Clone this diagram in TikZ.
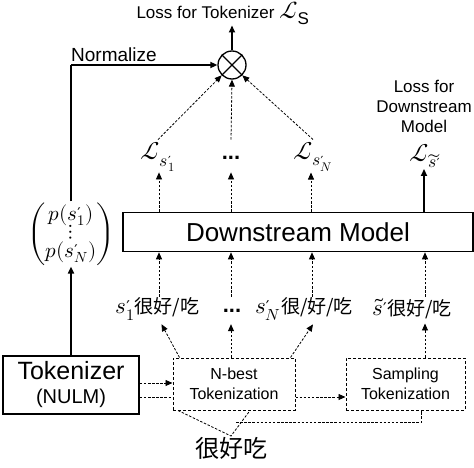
\documentclass[tikz,border=0pt]{standalone}
\usepackage{amsmath}
\usepackage{fontspec}
\usepackage{unicode-math}
\setmainfont{Liberation Sans}
\setmathfont{Latin Modern Math}
\newfontfamily\cjk{Noto Sans CJK JP}
\newfontfamily\djv{DejaVu Sans}
\newcommand{\pr}{^{\text{\djv\raisebox{-0.75ex}[0pt][0pt]{′}}}}
\usetikzlibrary{arrows.meta,calc}
\tikzset{
  tip/.style={-{Triangle[length=7pt,width=6pt]}},
  dline/.style={line width=0.8pt, dash pattern=on 2.5pt off 1.6pt},
  darrow/.style={dline, tip},
  sarrow/.style={line width=1.8pt, tip},
  sline/.style={line width=1.8pt},
  box/.style={draw, line width=1.6pt, inner sep=0pt},
  dbox/.style={draw, line width=1pt, dash pattern=on 3pt off 2pt, inner sep=0pt, align=center},
  lbl/.style={inner sep=1pt},
}
\newcommand{\fs}[1]{\fontsize{#1}{#1}\selectfont}
\begin{document}
\begin{tikzpicture}[x=1pt,y=-1pt]
\useasboundingbox (0,0) rectangle (474,468);
% boxes
\node[box, minimum width=136pt, minimum height=58pt, align=center, font=\fontsize{25}{24}\selectfont] (tok) at (71,385)
  {Tokenizer\\{\fs{20}(NULM)}};
\node[dbox, minimum width=122pt, minimum height=52pt, font=\fontsize{16}{20}\selectfont] (nbest) at (234,384)
  {N-best\\Tokenization};
\node[dbox, minimum width=119pt, minimum height=52pt, font=\fontsize{16}{20}\selectfont] (samp) at (405.5,384)
  {Sampling\\Tokenization};
\node[box, minimum width=350pt, minimum height=39pt] (dm) at (298,232)
  {\fs{26}Downstream Model};
\node[draw, circle, line width=1.3pt, minimum size=28pt, inner sep=0pt] (ot) at (232,65) {};
\draw[line width=1.1pt] (ot.north west) -- (ot.south east) (ot.north east) -- (ot.south west);
% texts
\node[lbl] (losstok) at (223,13) {\fs{17}Loss for Tokenizer {\fs{24}$\mathcal{L}_{\text{\fs{17}S}}$}};
\node[lbl, anchor=south west] (norm) at (70,63) {\fs{19}Normalize};
\node[lbl, align=center, font=\fontsize{17}{20}\selectfont] (lossdm) at (424,106) {Loss for\\Downstream\\Model};
\node[lbl] (vec) at (71,234) {\fs{21}$\begin{pmatrix} p(s\pr_1)\\[-4pt] \vdots\\[-2pt] p(s\pr_N)\end{pmatrix}$};
\node[lbl] (L1) at (158,157) {\fs{25}$\mathcal{L}_{s\pr_1}$};
\node[lbl] (Ld) at (231,158) {\fs{22}\textbf{...}};
\node[lbl] (LN) at (313,157) {\fs{25}$\mathcal{L}_{s\pr_N}$};
\node[lbl] (Lt) at (425,156) {\fs{25}$\mathcal{L}_{\widetilde{s\pr}}$};
\node[lbl] (s1) at (157.5,309) {\fs{23}$s\pr_1${\fs{19}\cjk 很好/吃}};
\node[lbl] (sd) at (232,311) {\fs{22}\textbf{...}};
\node[lbl] (sN) at (304,309) {\fs{23}$s\pr_N${\fs{19}\cjk 很/好/吃}};
\node[lbl] (st) at (412,309) {\fs{23}$\widetilde{s}\pr${\fs{19}\cjk 很好/吃}};
\node[lbl, anchor=north] (sent) at (231,436) {\fs{24}\cjk 很好吃};
% top connectors
\draw[sarrow] (ot.north) -- (ot.north |- losstok.south);
\draw[sline] (vec.north) -- (vec.north |- ot.west);
\draw[sarrow] (vec.north |- ot.west) -- (ot.west);
\draw[sarrow] (tok.north) -- (vec.south);
\draw[darrow] ([yshift=2pt]L1.north) -- (ot.south west);
\draw[darrow] ([yshift=2pt]Ld |- L1.north) -- (ot.south);
\draw[darrow] ([yshift=2pt]LN.north) -- (ot.south east);
% downstream outputs
\draw[darrow] ([xshift=1pt]L1.south |- dm.north) -- ([xshift=1pt]L1.south);
\draw[darrow] (Ld |- dm.north) -- (Ld |- L1.south);
\draw[darrow] ([xshift=-2pt]LN.south |- dm.north) -- ([xshift=-2pt]LN.south);
\draw[sarrow] ([xshift=-1pt]Lt.south |- dm.north) -- ([xshift=-1pt]Lt.south);
% downstream inputs
\draw[darrow] ([xshift=1pt]L1.south |- s1.north) -- ([xshift=1pt]L1.south |- dm.south);
\draw[darrow] (Ld |- s1.north) -- (Ld |- dm.south);
\draw[darrow] ([xshift=-1pt]LN.south |- s1.north) -- ([xshift=-1pt]LN.south |- dm.south);
\draw[darrow] (Lt |- s1.north) -- (Lt |- dm.south);
% tokenization outputs
\draw[darrow] ([xshift=7pt]nbest.north west) -- ([xshift=4pt,yshift=-3pt]s1.south);
\draw[darrow] (Ld |- nbest.north) -- ([yshift=-3pt]Ld |- s1.south);
\draw[darrow] ([xshift=-5pt]nbest.north east) -- ([xshift=9pt,yshift=-3pt]sN.south);
\draw[darrow] (Lt |- samp.north) -- ([yshift=-3pt]Lt |- st.south);
% tokenizer / nbest / sampling
\draw[darrow] ([yshift=2pt]tok.east) -- ([yshift=2pt]tok.east -| nbest.west);
\draw[dline] ([yshift=-12pt]tok.east) -- ([yshift=-12pt]tok.east -| nbest.west);
\draw[darrow] ([yshift=-13pt]nbest.east) -- ([yshift=-13pt]nbest.east -| samp.west);
% sentence
\coordinate (conv) at (sent.north);
\draw[dline] ([xshift=-56pt]nbest.south) -- (conv) -- ([xshift=16pt]nbest.south);
\coordinate (hj) at (236,422);
\draw[dline] (hj) -| ([xshift=16pt]samp.south);
\end{tikzpicture}
\end{document}
